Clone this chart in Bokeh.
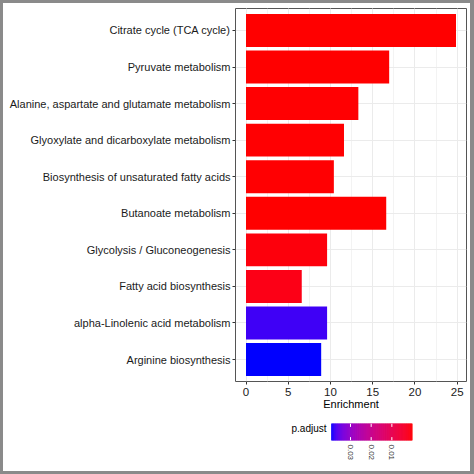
import numpy as np
from bokeh.plotting import figure
from bokeh.layouts import column
from bokeh.models import (FactorRange, Range1d, LinearColorMapper, SingleIntervalTicker,
                          FixedTicker, ColumnDataSource, Label)
from bokeh.transform import transform
from bokeh.embed import file_html
from bokeh.resources import INLINE

# ---------------- data ----------------
categories = [
    "Citrate cycle (TCA cycle)",
    "Pyruvate metabolism",
    "Alanine, aspartate and glutamate metabolism",
    "Glyoxylate and dicarboxylate metabolism",
    "Biosynthesis of unsaturated fatty acids",
    "Butanoate metabolism",
    "Glycolysis / Gluconeogenesis",
    "Fatty acid biosynthesis",
    "alpha-Linolenic acid metabolism",
    "Arginine biosynthesis",
]
enrichment = [24.86, 16.95, 13.3, 11.6, 10.4, 16.6, 9.6, 6.6, 9.6, 8.9]
p_adjust = [0.00001, 0.0001, 0.0002, 0.0003, 0.0003, 0.0001, 0.0009, 0.0016, 0.0378, 0.0392]
legend_ticks = [0.01, 0.02, 0.03]
legend_title = "p.adjust"
x_title = "Enrichment"

FONT = "Liberation Sans"

# ---------------- red -> blue gradient interpolated in CIELAB ----------------
WHITE = np.array([0.95047, 1.0, 1.08883])
M = np.array([[0.4124564, 0.3575761, 0.1804375],
              [0.2126729, 0.7151522, 0.0721750],
              [0.0193339, 0.1191920, 0.9503041]])
Minv = np.linalg.inv(M)


def rgb2lab(rgb):
    c = np.array(rgb) / 255.0
    c = np.where(c > 0.04045, ((c + 0.055) / 1.055) ** 2.4, c / 12.92)
    xyz = M @ c / WHITE
    f = np.where(xyz > (6 / 29) ** 3, np.cbrt(xyz), xyz / (3 * (6 / 29) ** 2) + 4 / 29)
    return np.array([116 * f[1] - 16, 500 * (f[0] - f[1]), 200 * (f[1] - f[2])])


def lab2hex(lab):
    L, a, b = lab
    fy = (L + 16) / 116
    fx = fy + a / 500
    fz = fy - b / 200
    f = np.array([fx, fy, fz])
    xyz = np.where(f > 6 / 29, f ** 3, 3 * (6 / 29) ** 2 * (f - 4 / 29)) * WHITE
    c = Minv @ xyz
    c = np.clip(c, 0, 1)
    c = np.where(c > 0.0031308, 1.055 * c ** (1 / 2.4) - 0.055, 12.92 * c)
    r, g, bb = (np.clip(np.round(c * 255), 0, 255)).astype(int)
    return "#%02x%02x%02x" % (r, g, bb)


lab_red = rgb2lab([255, 0, 0])
lab_blue = rgb2lab([0, 0, 255])
palette = [lab2hex(lab_red + (lab_blue - lab_red) * t) for t in np.linspace(0, 1, 256)]

pmin, pmax = min(p_adjust), max(p_adjust)
mapper = LinearColorMapper(palette=palette, low=pmin, high=pmax)

W = 467  # inner width (inside the grey picture frame)

# ---------------- main plot ----------------
xmax = max(enrichment)
y_range = FactorRange(factors=list(reversed(categories)), range_padding=0.1,
                      range_padding_units="absolute")

p = figure(width=W, height=416, y_range=y_range,
           x_range=Range1d(-0.05 * xmax, 1.05 * xmax),
           output_backend="svg", toolbar_location=None,
           min_border_left=232, min_border_right=4, min_border_top=5, min_border_bottom=38)
p.frame_align = False

src = ColumnDataSource(dict(cat=categories, enr=enrichment, padj=p_adjust))
p.hbar(y="cat", left=0, right="enr", height=0.9, source=src,
       fill_color=transform("padj", mapper), line_color=None)

p.background_fill_color = "white"
p.border_fill_color = "white"
p.outline_line_color = "#555555"
p.outline_line_width = 1

p.xaxis.ticker = SingleIntervalTicker(interval=5, num_minor_ticks=2)
p.xgrid.grid_line_color = "#ebebeb"
p.xgrid.minor_grid_line_color = "#f3f3f3"
p.ygrid.grid_line_color = "#ebebeb"

for ax in (p.xaxis, p.yaxis):
    ax.axis_line_color = None
    ax.major_tick_line_color = "#333333"
    ax.major_tick_out = 3
    ax.major_tick_in = 0
    ax.minor_tick_line_color = None
    ax.major_label_text_font = FONT
    ax.major_label_text_color = "#1a1a1a"
    ax.major_label_standoff = 2

p.yaxis.major_label_text_font_size = "11px"
p.xaxis.major_label_text_font_size = "11.5px"
p.xaxis.axis_label = x_title
p.xaxis.axis_label_text_font = FONT
p.xaxis.axis_label_text_font_size = "11px"
p.xaxis.axis_label_text_font_style = "normal"
p.xaxis.axis_label_text_color = "#000000"
p.xaxis.axis_label_standoff = -1

# ---------------- colour bar legend ----------------
BAR_L, BAR_W, FRAME_L, FRAME_R = 328, 81, 262, 58  # screen layout of the legend
edges = np.linspace(pmin, pmax, 121)
leg_src = ColumnDataSource(dict(
    y=[legend_title] * (len(edges) - 1),
    left=edges[:-1], right=edges[1:],
    v=(edges[:-1] + edges[1:]) / 2,
))
span = pmax - pmin
x_start = pmax + (BAR_L - FRAME_L) / BAR_W * span

p2 = figure(width=W, height=52, y_range=FactorRange(factors=[legend_title]),
            x_range=Range1d(x_start, pmin),
            output_backend="svg", toolbar_location=None,
            min_border_left=FRAME_L, min_border_right=FRAME_R, min_border_top=4, min_border_bottom=31)
p2.frame_align = False
p2.hbar(y="y", left="left", right="right", height=1, source=leg_src,
        fill_color=transform("v", mapper), line_color=transform("v", mapper), line_width=0.6)

# white tick marks on top and bottom edges of the colour bar
tick_src = ColumnDataSource(dict(
    x=legend_ticks + legend_ticks,
    y0=[(legend_title, 0.5)] * len(legend_ticks) + [(legend_title, -0.5)] * len(legend_ticks),
    y1=[(legend_title, 0.3)] * len(legend_ticks) + [(legend_title, -0.3)] * len(legend_ticks),
))
p2.segment(x0="x", x1="x", y0="y0", y1="y1", source=tick_src, line_color="white", line_width=1)

# legend title, top-aligned with the bar, left of it
p2.add_layout(Label(x=pmax, y=1.0, x_offset=-5, y_offset=1, text=legend_title,
                    text_align="right", text_baseline="top",
                    text_font=FONT, text_font_size="10px", text_color="#000000"))

p2.outline_line_color = None
p2.grid.grid_line_color = None
p2.background_fill_color = "white"
p2.border_fill_color = "white"
p2.yaxis.visible = False

p2.xaxis.ticker = FixedTicker(ticks=legend_ticks)
p2.xaxis.axis_line_color = None
p2.xaxis.major_tick_line_color = None
p2.xaxis.major_tick_in = 0
p2.xaxis.major_tick_out = 0
p2.xaxis.minor_tick_line_color = None
p2.xaxis.major_label_orientation = "vertical"
p2.xaxis.major_label_text_font = FONT
p2.xaxis.major_label_text_font_size = "8px"
p2.xaxis.major_label_text_color = "#333333"
p2.xaxis.major_label_standoff = 4

layout = column(p, p2, spacing=0,
                styles={"border-style": "solid", "border-color": "#8a8a8a",
                        "border-width": "3px 4px 3px 3px", "box-sizing": "content-box",
                        "background-color": "white"})
open("out.html", "w").write(file_html(layout, INLINE))
